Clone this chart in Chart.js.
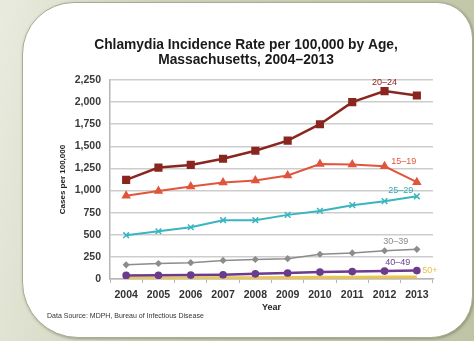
<!DOCTYPE html>
<html>
<head>
<meta charset="utf-8">
<script src="https://cdn.jsdelivr.net/npm/chart.js@4/dist/chart.umd.min.js"></script>
<style>
  html, body { margin: 0; padding: 0; }
  body {
    width: 474px; height: 341px; overflow: hidden; position: relative;
    background: linear-gradient(100deg, #e9ebdf 0%, #d3d7c0 30%, #bfc4a6 100%);
  }
  .card {
    position: absolute; left: 22px; top: 2px; width: 449px; height: 334px;
    background: #fff; border: 1px solid #a8ad90;
    border-radius: 52px 36px 42px 56px;
    box-shadow: 1px 1px 3px rgba(90, 95, 70, 0.5);
  }
  #chart { position: absolute; left: 0; top: 0; }
</style>
</head>
<body>
<div class="card"></div>
<canvas id="chart" width="474" height="341"></canvas>
<script>
  // Rates per 100,000 by age group, Massachusetts
  const years = ['2004', '2005', '2006', '2007', '2008', '2009', '2010', '2011', '2012', '2013'];
  const age20to24 = [1120, 1260, 1290, 1360, 1450, 1565, 1750, 2000, 2125, 2075];
  const age15to19 = [940, 995, 1045, 1090, 1115, 1170, 1300, 1295, 1275, 1095];
  const age25to29 = [495, 540, 585, 665, 665, 725, 770, 835, 880, 935];
  const age30to39 = [160, 175, 185, 210, 220, 230, 280, 295, 320, 335];
  const age40to49 = [40, 42, 44, 48, 58, 68, 78, 84, 90, 95];
  const age50plus = [10, 12, 12, 14, 15, 17, 19, 20, 22, 24];
  const yTicks = [0, 250, 500, 750, 1000, 1250, 1500, 1750, 2000, 2250];
  const titleLines = ['Chlamydia Incidence Rate per 100,000 by Age,', 'Massachusetts, 2004–2013'];

  const FONT = 'Arial, "Liberation Sans", sans-serif';

  // Series label: text, colour, which point to hang it off, pixel offset
  const seriesLabels = [
    { text: '20–24', color: '#8a2620', idx: 8, dx: 0, dy: -9 },
    { text: '15–19', color: '#e0553c', idx: 9, dx: -13, dy: -21 },
    { text: '25–29', color: '#2fa9b4', idx: 9, dx: -16, dy: -6 },
    { text: '30–39', color: '#8a8a8a', idx: 9, dx: -21, dy: -8 },
    { text: '40–49', color: '#6b3b8e', idx: 9, dx: -19, dy: -8 },
    { text: '50+', color: '#e6c24a', idx: 9, dx: 13, dy: -6 }
  ];

  const labelPlugin = {
    id: 'seriesLabels',
    afterDatasetsDraw(chart) {
      const ctx = chart.ctx;
      ctx.save();
      ctx.textAlign = 'center';
      ctx.textBaseline = 'middle';

      // heading, a little right of the canvas centre
      ctx.font = 'bold 13.8px ' + FONT;
      ctx.fillStyle = '#1a1a1a';
      titleLines.forEach((t, i) => ctx.fillText(t, 246, 45 + i * 15.5));

      ctx.font = '9px ' + FONT;
      seriesLabels.forEach((l, i) => {
        const pt = chart.getDatasetMeta(i).data[l.idx];
        ctx.fillStyle = l.color;
        ctx.fillText(l.text, pt.x + l.dx, pt.y + l.dy);
      });

      // source note
      ctx.font = '7px ' + FONT;
      ctx.textAlign = 'left';
      ctx.fillStyle = '#333';
      ctx.fillText('Data Source: MDPH, Bureau of Infectious Disease', 47, 316);
      ctx.restore();
    }
  };

  const ctx = document.getElementById('chart').getContext('2d');

  new Chart(ctx, {
    type: 'line',
    data: {
      labels: years,
      datasets: [
        {
          label: '20–24', data: age20to24,
          borderColor: '#8a2620', backgroundColor: '#8a2620',
          borderWidth: 2.5, pointStyle: 'rect', pointRadius: 4
        },
        {
          label: '15–19', data: age15to19,
          borderColor: '#e0553c', backgroundColor: '#e0553c',
          borderWidth: 2, pointStyle: 'triangle', pointRadius: 3.5
        },
        {
          label: '25–29', data: age25to29,
          borderColor: '#3ab5bf', backgroundColor: '#3ab5bf',
          borderWidth: 2, pointStyle: 'crossRot', pointRadius: 4, pointBorderWidth: 1.5
        },
        {
          label: '30–39', data: age30to39,
          borderColor: '#8c8c8c', backgroundColor: '#8c8c8c',
          borderWidth: 1.5, pointStyle: 'rectRot', pointRadius: 2.5
        },
        {
          label: '40–49', data: age40to49,
          borderColor: '#6b3b8e', backgroundColor: '#6b3b8e',
          borderWidth: 2.5, pointStyle: 'circle', pointRadius: 2.6
        },
        {
          label: '50+', data: age50plus,
          borderColor: '#e8c650', backgroundColor: '#e8c650',
          borderWidth: 3, pointRadius: 0
        }
      ]
    },
    options: {
      responsive: false,
      animation: false,
      layout: { padding: { left: 40, right: 41, top: 80, bottom: 24 } },
      plugins: {
        legend: { display: false },
        tooltip: { enabled: false },
        title: { display: false }
      },
      scales: {
        x: {
          offset: true,
          grid: {
            display: true, drawOnChartArea: false, drawTicks: true,
            tickLength: 4, offset: true, color: '#b5b5b5'
          },
          border: { color: '#b5b5b5', width: 1.5 },
          ticks: { color: '#333', font: { family: FONT, size: 10.5, weight: 'bold' }, padding: 6, maxRotation: 0 },
          title: {
            display: true, text: 'Year', color: '#222',
            font: { family: FONT, size: 9, weight: 'bold' }, padding: { top: 2 }
          },
          afterFit(scale) { scale.height = 38; }
        },
        y: {
          min: 0, max: 2250,
          afterBuildTicks(scale) { scale.ticks = yTicks.map(v => ({ value: v })); },
          grid: { color: '#cdcdcd', lineWidth: 1.5, drawTicks: false },
          border: { color: '#b5b5b5', width: 1.5 },
          ticks: {
            color: '#3a3a3a', padding: 9,
            font: { family: FONT, size: 10.5, weight: 'bold' },
            callback: v => v.toLocaleString('en-US')
          },
          title: {
            display: true, text: 'Cases per 100,000', color: '#222',
            font: { family: FONT, size: 8, weight: 'bold' }, padding: { top: 18, bottom: 0 }
          },
          afterFit(scale) { scale.width = 70; }
        }
      }
    },
    plugins: [labelPlugin]
  });
</script>
</body>
</html>
